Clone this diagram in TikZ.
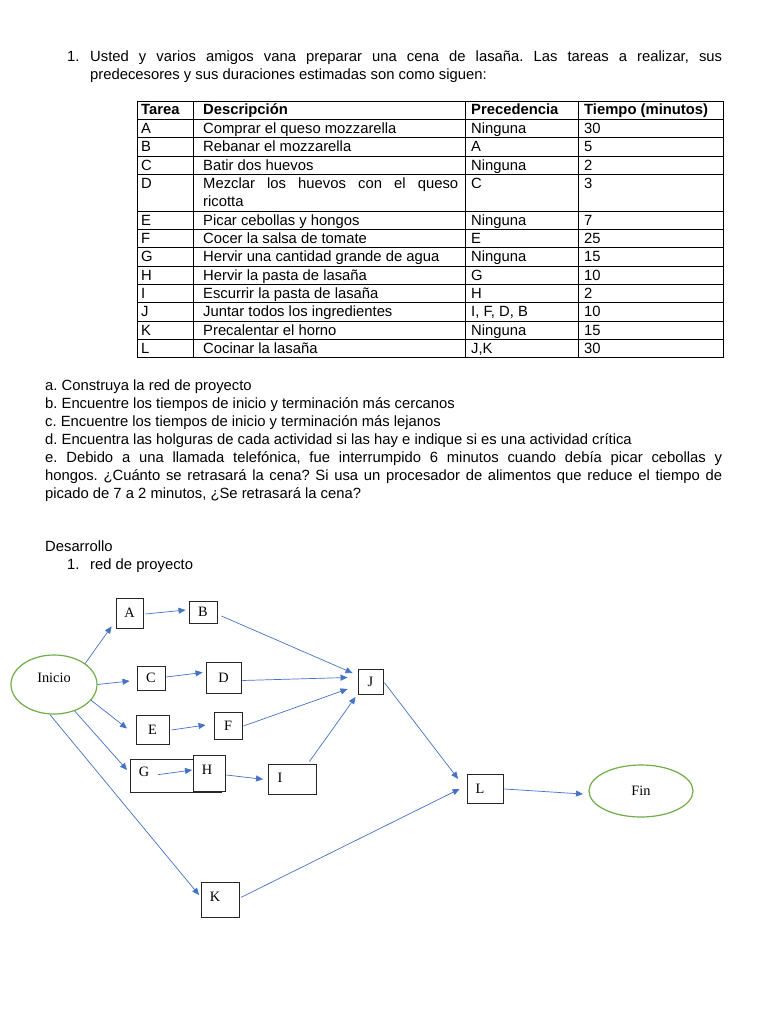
\documentclass[tikz,border=0pt]{standalone}
\usepackage{fontspec}
\setmainfont{Liberation Sans}
\newfontfamily\serifd{Liberation Serif}
\usetikzlibrary{arrows.meta,shapes.geometric,calc}
\definecolor{arrblue}{HTML}{4472C4}
\definecolor{ellgreen}{HTML}{70AD47}
\frenchspacing
\begin{document}
\begin{tikzpicture}[x=1pt,y=-1pt,
  txt/.style={anchor=base west, inner sep=0pt, font=\fontsize{14.8}{18}\selectfont},
  hdr/.style={anchor=base west, inner sep=0pt, font=\fontsize{14.8}{18}\selectfont\bfseries},
  tline/.style={line width=0.9pt, black},
  box/.style={draw=black!85, line width=0.9pt, fill=white, rectangle, inner sep=0pt, font=\serifd\fontsize{14.3}{16}\selectfont},
  lbl/.style={inner sep=0pt, font=\serifd\fontsize{14.3}{16}\selectfont},
  ell/.style={draw=ellgreen, line width=1.2pt, ellipse, inner sep=0pt, fill=white, font=\serifd\fontsize{14.3}{16}\selectfont},
  conn/.style={draw=arrblue, line width=0.7pt, -{Triangle[length=7pt,width=6pt]}}]
\useasboundingbox (0,0) rectangle (768,1024);
\fill[white] (0,0) rectangle (768,1024);

% ---------- statement ----------
\node[txt] (n1) at (67,62) {1.};
\node[txt] (p1) at (90,62) {\makebox[632pt][s]{Usted y varios amigos vana preparar una cena de lasaña. Las tareas a realizar, sus}};
\node[txt] (p2) at (90,80) {predecesores y sus duraciones estimadas son como siguen:};

% ---------- table ----------
\foreach \yy in {101,119.35,137.7,156.05,174.4,211.1,229.45,247.8,266.15,284.5,302.85,321.2,339.55,357.9}
  \draw[tline] (137,\yy) -- (723,\yy);
\foreach \xx in {137,193,465,578,723}
  \draw[tline] (\xx,101) -- (\xx,357.9);

\node[hdr] (h1) at (141,115) {Tarea};
\node[hdr] (h2) at (203,115) {Descripción};
\node[hdr] (h3) at (471,115) {Precedencia};
\node[hdr] (h4) at (584,115) {Tiempo (minutos)};

\node[txt] (a1) at (141,133.35) {A};
\node[txt] (a2) at (203,133.35) {Comprar el queso mozzarella};
\node[txt] (a3) at (471,133.35) {Ninguna};
\node[txt] (a4) at (584,133.35) {30};

\node[txt] (b1) at (141,151.7) {B};
\node[txt] (b2) at (203,151.7) {Rebanar el mozzarella};
\node[txt] (b3) at (471,151.7) {A};
\node[txt] (b4) at (584,151.7) {5};

\node[txt] (c1) at (141,170.05) {C};
\node[txt] (c2) at (203,170.05) {Batir dos huevos};
\node[txt] (c3) at (471,170.05) {Ninguna};
\node[txt] (c4) at (584,170.05) {2};

\node[txt] (d1) at (141,188.4) {D};
\node[txt] (d2) at (203,188.4) {\makebox[255pt][s]{Mezclar los huevos con el queso}};
\node[txt] (d2b) at (203,206.4) {ricotta};
\node[txt] (d3) at (471,188.4) {C};
\node[txt] (d4) at (584,188.4) {3};

\node[txt] (e1) at (141,225.1) {E};
\node[txt] (e2) at (203,225.1) {Picar cebollas y hongos};
\node[txt] (e3) at (471,225.1) {Ninguna};
\node[txt] (e4) at (584,225.1) {7};

\node[txt] (f1) at (141,243.45) {F};
\node[txt] (f2) at (203,243.45) {Cocer la salsa de tomate};
\node[txt] (f3) at (471,243.45) {E};
\node[txt] (f4) at (584,243.45) {25};

\node[txt] (g1) at (141,261.8) {G};
\node[txt] (g2) at (203,261.8) {Hervir una cantidad grande de agua};
\node[txt] (g3) at (471,261.8) {Ninguna};
\node[txt] (g4) at (584,261.8) {15};

\node[txt] (hh1) at (141,280.15) {H};
\node[txt] (hh2) at (203,280.15) {Hervir la pasta de lasaña};
\node[txt] (hh3) at (471,280.15) {G};
\node[txt] (hh4) at (584,280.15) {10};

\node[txt] (i1) at (141,298.5) {I};
\node[txt] (i2) at (203,298.5) {Escurrir la pasta de lasaña};
\node[txt] (i3) at (471,298.5) {H};
\node[txt] (i4) at (584,298.5) {2};

\node[txt] (j1) at (141,316.85) {J};
\node[txt] (j2) at (203,316.85) {Juntar todos los ingredientes};
\node[txt] (j3) at (471,316.85) {I, F, D, B};
\node[txt] (j4) at (584,316.85) {10};

\node[txt] (k1) at (141,335.2) {K};
\node[txt] (k2) at (203,335.2) {Precalentar el horno};
\node[txt] (k3) at (471,335.2) {Ninguna};
\node[txt] (k4) at (584,335.2) {15};

\node[txt] (l1) at (141,353.55) {L};
\node[txt] (l2) at (203,353.55) {Cocinar la lasaña};
\node[txt] (l3) at (471,353.55) {J,K};
\node[txt] (l4) at (584,353.55) {30};

% ---------- questions ----------
\node[txt] (qa) at (45,390) {a. Construya la red de proyecto};
\node[txt] (qb) at (45,408) {b. Encuentre los tiempos de inicio y terminación más cercanos};
\node[txt] (qc) at (45,426) {c. Encuentre los tiempos de inicio y terminación más lejanos};
\node[txt] (qd) at (45,444) {d. Encuentra las holguras de cada actividad si las hay e indique si es una actividad crítica};
\node[txt] (qe1) at (45,462) {\makebox[677pt][s]{e. Debido a una llamada telefónica, fue interrumpido 6 minutos cuando debía picar cebollas y}};
\node[txt] (qe2) at (45,480) {\makebox[677pt][s]{hongos. ¿Cuánto se retrasará la cena? Si usa un procesador de alimentos que reduce el tiempo de}};
\node[txt] (qe3) at (45,498) {picado de 7 a 2 minutos, ¿Se retrasará la cena?};

\node[txt] (des) at (45,551) {Desarrollo};
\node[txt] (n2) at (67,569) {1.};
\node[txt] (red) at (90,569) {red de proyecto};

% ---------- network ----------
\node[ell, minimum width=86pt, minimum height=59pt] (Inicio) at (54,684.5) {};
\node[lbl] (Iniciot) at (54,678) {Inicio};
\node[ell, minimum width=104pt, minimum height=52pt] (Fin) at (641,791) {Fin};

\node[box, minimum width=27pt, minimum height=30pt] (A) at (129.5,613) {A};
\node[box, minimum width=28pt, minimum height=22pt] (B) at (203,612) {B};
\node[box, minimum width=28pt, minimum height=24pt] (C) at (151,678) {C};
\node[box, minimum width=35pt, minimum height=31pt] (D) at (223.5,677.5) {D};
\node[box, minimum width=25pt, minimum height=25pt] (J) at (370.5,681.5) {J};
\node[box, minimum width=33pt, minimum height=29pt] (E) at (152.5,729.5) {E};
\node[box, minimum width=28pt, minimum height=27pt] (F) at (228,725.5) {F};
\node[box, minimum width=91pt, minimum height=33pt] (G) at (175.5,775.5) {};
\node[lbl] (Gt) at (144,772) {G};
\node[box, minimum width=32pt, minimum height=36pt] (H) at (209,773) {};
\node[lbl] (Ht) at (207,770) {H};
\node[box, minimum width=48pt, minimum height=30pt] (I) at (292,779) {};
\node[lbl] (It) at (280,778) {I};
\node[box, minimum width=36pt, minimum height=29pt] (L) at (485,788.5) {};
\node[lbl] (Lt) at (480,789) {L};
\node[box, minimum width=38pt, minimum height=35pt] (K) at (220,899.5) {};
\node[lbl] (Kt) at (215,897) {K};

\draw[conn] (Inicio.34) -- ($(A.south west)+(-4,-2)$);
\draw[conn] ($(A.east)+(2,1)$) -- ($(B.west)+(-3,-2)$);
\draw[conn] (Inicio.east) -- ($(C.west)+(-7,3)$);
\draw[conn] ($(C.east)+(1,-1)$) -- ($(D.west)+(-3,-5)$);
\draw[conn] ($(B.east)+(4,4)$) -- ($(J.west)+(-5,-8.5)$);
\draw[conn] ($(D.east)+(1,3)$) -- ($(J.west)+(-10,-4)$);
\draw[conn] ($(F.east)+(1,0.5)$) -- ($(J.west)+(-10,7.5)$);
\draw[conn] ($(I.north east)+(-7,-2)$) -- ($(J.south west)+(-2,2.5)$);
\draw[conn] (Inicio.-23) -- ($(E.west)+(-8.5,-1)$);
\draw[conn] (Inicio.-52) -- ($(G.west)+(-2.5,-5.5)$);
\draw[conn] (Inicio.-98) -- ($(K.west)+(-1.5,-4.5)$);
\draw[conn] ($(E.east)+(2,0.5)$) -- ($(F.west)+(-8,-0.5)$);
\draw[conn] ($(Gt.east)+(8.5,2.7)$) -- ($(H.west)+(-0.5,-3)$);
\draw[conn] ($(H.east)+(1,2)$) -- ($(I.west)+(-4.5,0.3)$);
\draw[conn] ($(J.east)+(1,1.2)$) -- ($(L.north west)+(-8.5,5.3)$);
\draw[conn] ($(K.east)+(1.7,-2.2)$) -- ($(L.west)+(-7,0.5)$);
\draw[conn] ($(L.east)+(1,0.5)$) -- ($(Fin.west)+(-5.5,3)$);
\end{tikzpicture}
\end{document}
